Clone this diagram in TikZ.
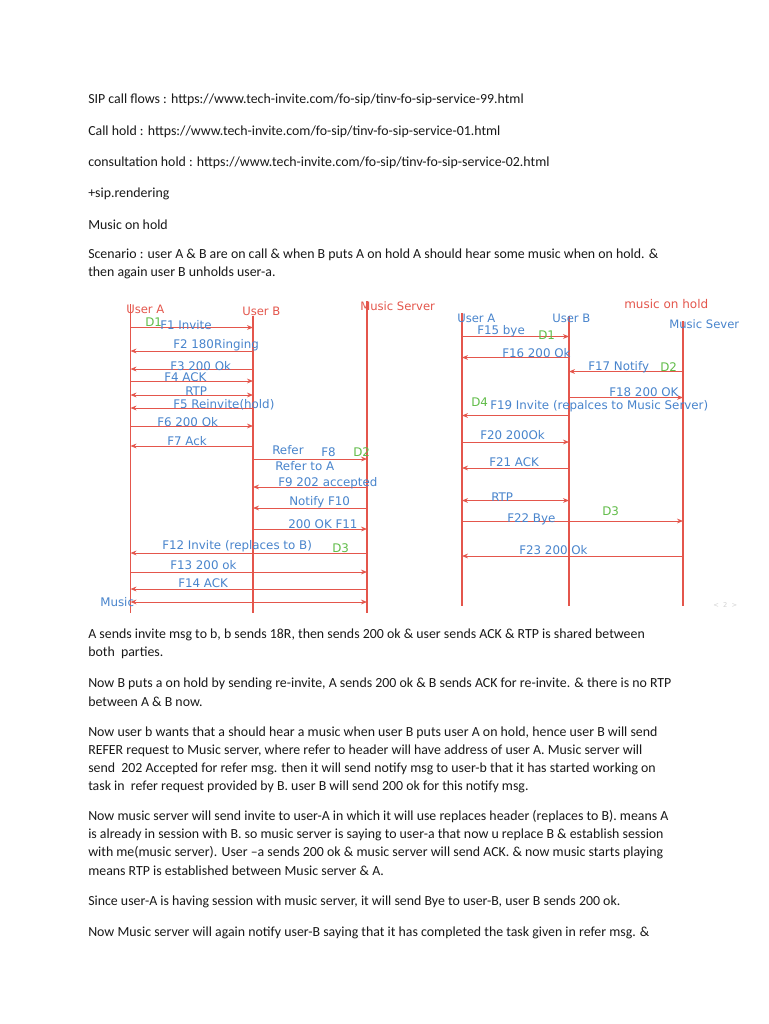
\documentclass[tikz,border=0pt]{standalone}
\usepackage{fontspec}
\setmainfont{Carlito}
\newfontfamily\dejavu{DejaVu Sans}
\usetikzlibrary{arrows.meta}
\definecolor{flowred}{RGB}{228,86,76}
\definecolor{flowblue}{RGB}{72,132,204}
\definecolor{flowgreen}{RGB}{96,188,72}
\definecolor{pagetext}{RGB}{25,25,25}
\tikzset{
  >={Stealth[length=4.5pt,width=3.6pt]},
  lifeline/.style={draw=flowred,line width=0.8pt},
  msg/.style={->,draw=flowred,line width=0.75pt},
  both/.style={msg,<->},
  lbl/.style={inner sep=0pt,anchor=west,text=flowblue,font=\dejavu\fontsize{8.9}{10}\selectfont},
  tag/.style={lbl,text=flowgreen},
  actor/.style={lbl,font=\dejavu\fontsize{8.7}{10}\selectfont},
  redactor/.style={actor,text=flowred},
  para/.style={inner sep=0pt,anchor=west,text=pagetext,font=\fontsize{10.4}{12}\selectfont}
}
% one message between two lifelines at height y
\newcommand{\flow}[4][msg]{\draw[#1] (#2 |- 0,#4) -- (#3 |- 0,#4);}

\begin{document}
\begin{tikzpicture}[x=0.75pt,y=-0.75pt]
  \fill[white] (0,0) rectangle (768,1024);
  \useasboundingbox (0,0) rectangle (768,1024);

  % Page text above the pictures
  \node[para] (p1) at (88,100) {SIP call flows : https://www.tech-invite.com/fo-sip/tinv-fo-sip-service-99.html};
  \node[para] (p2) at (88,131.5) {Call hold : https://www.tech-invite.com/fo-sip/tinv-fo-sip-service-01.html};
  \node[para] (p3) at (88,162.5) {consultation hold : https://www.tech-invite.com/fo-sip/tinv-fo-sip-service-02.html};
  \node[para] (p4) at (88,193.5) {+sip.rendering};
  \node[para] (p5) at (88,224.5) {Music on hold};
  \node[para] (p6) at (88,255) {Scenario : user A \& B are on call \& when B puts A on hold A should hear some music when on hold. \&};
  \node[para] (p7) at (88,272.5) {then again user B unholds user-a.};

  % Left flow: hold and refer
  \coordinate (la) at (130.5,304);
  \coordinate (lb) at (253,316);
  \coordinate (lm) at (367,301);
  \foreach \l in {la,lb,lm}
    \draw[lifeline] (\l) -- (\l |- 0,613);
  \node[redactor] (uaL) at (126,309) {User A};
  \node[redactor] (ubL) at (242,311) {User B};
  \node[redactor] (msL) at (360,306) {Music Server};

  \flow{la}{lb}{327.5}
  \flow{lb}{la}{351}
  \flow{lb}{la}{369}
  \flow{la}{lb}{381}
  \flow[both]{la}{lb}{395}
  \flow{lb}{la}{408}
  \flow{la}{lb}{426}
  \flow{lb}{la}{446}
  \flow{lb}{lm}{459}
  \flow{lm}{lb}{487}
  \flow{lm}{lb}{508}
  \flow{lb}{lm}{529}
  \flow{lm}{la}{553}
  \flow{la}{lm}{572}
  \flow{lm}{la}{589}
  \flow[both]{la}{lm}{602}

  \node[tag] (d1L) at (145,322) {D1};
  \node[lbl] (f1) at (160,325) {F1 Invite};
  \node[lbl] (f2) at (173,345) {F2 180Ringing};
  \node[lbl] (f3) at (170,366) {F3 200 Ok};
  \node[lbl] (f4) at (164,377) {F4 ACK};
  \node[lbl] (rtpL) at (185,391) {RTP};
  \node[lbl] (f5) at (173,405) {F5 Reinvite(hold)};
  \node[lbl] (f6) at (157,422) {F6 200 Ok};
  \node[lbl] (f7) at (167,441) {F7 Ack};
  \node[lbl] (refer) at (272,450) {Refer};
  \node[lbl] (f8) at (321,452) {F8};
  \node[tag] (d2L) at (353,452) {D2};
  \node[lbl] (referto) at (275,466) {Refer to A};
  \node[lbl] (f9) at (278,483) {F9 202 accepted};
  \node[lbl] (f10) at (289,502) {Notify F10};
  \node[lbl] (f11) at (288,524) {200 OK F11};
  \node[lbl] (f12) at (162,546) {F12 Invite (replaces to B)};
  \node[tag] (d3L) at (332,548) {D3};
  \node[lbl] (f13) at (170,565) {F13 200 ok};
  \node[lbl] (f14) at (178,583) {F14 ACK};
  \node[lbl] (music) at (100,602) {Music};

  % Right flow: unhold
  \coordinate (ra) at (462,313);
  \coordinate (rb) at (569,316);
  \coordinate (rm) at (683,321);
  \foreach \l in {ra,rb,rm}
    \draw[lifeline] (\l) -- (\l |- 0,606);
  \node[redactor,font=\dejavu\fontsize{9}{11}\selectfont] (moh) at (624,304) {music on hold};
  \node[actor] (uaR) at (457,318) {User A};
  \node[actor] (ubR) at (552,318) {User B};
  \node[actor] (msR) at (669,324) {Music Sever};

  \flow{ra}{rb}{336.5}
  \flow{rb}{ra}{357.5}
  \flow{rm}{rb}{371.5}
  \flow{rb}{rm}{397.5}
  \flow{rb}{ra}{415.5}
  \flow{ra}{rb}{442}
  \flow{rb}{ra}{468}
  \flow[both]{ra}{rb}{500.5}
  \flow{ra}{rm}{521}
  \flow{rm}{ra}{556}

  \node[lbl] (f15) at (477,331.5) {F15 bye};
  \node[tag] (d1R) at (538,335) {D1};
  \node[lbl] (f16) at (502,353) {F16 200 Ok};
  \node[lbl] (f17) at (588,367.5) {F17 Notify};
  \node[tag] (d2R) at (660,367.5) {D2};
  \node[lbl] (f18) at (609,392) {F18 200 OK};
  \node[tag] (d4R) at (471,402.5) {D4};
  \node[lbl] (f19) at (490,406.5) {F19 Invite (repalces to Music Server)};
  \node[lbl] (f20) at (480,435.5) {F20 200Ok};
  \node[lbl] (f21) at (489,462) {F21 ACK};
  \node[lbl] (rtpR) at (491,497) {RTP};
  \node[lbl] (f22) at (507,519) {F22 Bye};
  \node[tag] (d3R) at (602,511) {D3};
  \node[lbl] (f23) at (519,550.5) {F23 200 Ok};
  \node[lbl,text=gray!35,font=\dejavu\fontsize{5}{6}\selectfont] (pager) at (713,605) {<\ \ 2\ \ >};

  % Page text below the pictures
  \node[para] (p8) at (88,635) {A sends invite msg to b, b sends 18R, then sends 200 ok \& user sends ACK \& RTP is shared between};
  \node[para] (p9) at (88,653) {both\ \ parties.};
  \node[para] (p10) at (88,684) {Now B puts a on hold by sending re-invite, A sends 200 ok \& B sends ACK for re-invite. \& there is no RTP};
  \node[para] (p11) at (88,702) {between A \& B now.};
  \node[para] (p12) at (88,732.5) {Now user b wants that a should hear a music when user B puts user A on hold, hence user B will send};
  \node[para] (p13) at (88,750.5) {REFER request to Music server, where refer to header will have address of user A. Music server will};
  \node[para] (p14) at (88,768.5) {send\ \ 202 Accepted for refer msg. then it will send notify msg to user-b that it has started working on};
  \node[para] (p15) at (88,786.5) {task in\ \ refer request provided by B. user B will send 200 ok for this notify msg.};
  \node[para] (p16) at (88,817) {Now music server will send invite to user-A in which it will use replaces header (replaces to B). means A};
  \node[para] (p17) at (88,835) {is already in session with B. so music server is saying to user-a that now u replace B \& establish session};
  \node[para] (p18) at (88,853) {with me(music server). User –a sends 200 ok \& music server will send ACK. \& now music starts playing};
  \node[para] (p19) at (88,871) {means RTP is established between Music server \& A.};
  \node[para] (p20) at (88,902) {Since user-A is having session with music server, it will send Bye to user-B, user B sends 200 ok.};
  \node[para] (p21) at (88,933) {Now Music server will again notify user-B saying that it has completed the task given in refer msg. \&};
\end{tikzpicture}
\end{document}
